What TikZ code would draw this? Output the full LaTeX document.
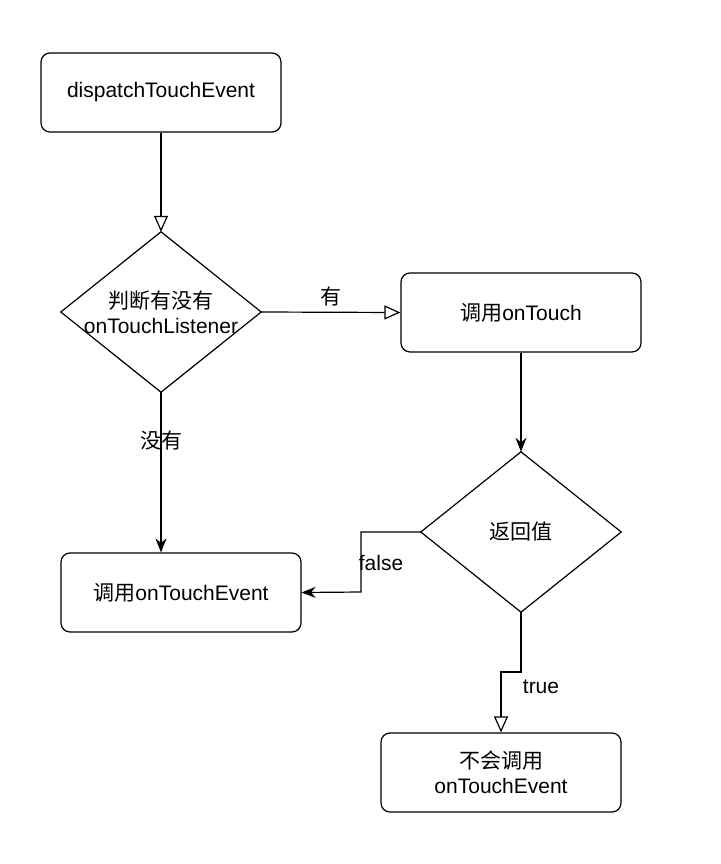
\documentclass[tikz,border=0pt]{standalone}
\usepackage{fontspec}
\setmainfont{Liberation Sans}
\newfontfamily\cjk{Noto Sans CJK SC}
\usetikzlibrary{shapes.geometric,arrows.meta}
\begin{document}
\begin{tikzpicture}[x=1pt,y=-1pt,
  box/.style={draw,line width=1.2pt,rounded corners=9pt,minimum width=240pt,minimum height=79pt,align=center,font=\fontsize{21}{25}\selectfont},
  dia/.style={rectangle,minimum width=200pt,minimum height=160pt,inner sep=0pt,align=center,font=\fontsize{21}{25}\selectfont},
  dline/.style={draw,line width=1.2pt},
  open/.style={line width=1.2pt,-{Triangle[open,length=16pt,width=14pt]}},
  fill/.style={line width=1.2pt,-{Stealth[length=14pt,width=11pt]}},
  lab/.style={inner sep=1pt,font=\fontsize{21}{25}\selectfont}]
\useasboundingbox (0,0) rectangle (720,864);
\node[box] (a) at (161,92.5) {dispatchTouchEvent};
\node[dia] (d1) at (161,312) {{\cjk 判断有没有}\\onTouchListener};
\draw[dline] (d1.north) -- (d1.east) -- (d1.south) -- (d1.west) -- cycle;
\node[box] (b) at (521,312.5) {{\cjk 调用}onTouch};
\node[dia] (d2) at (521,532) {{\cjk 返回值}};
\draw[dline] (d2.north) -- (d2.east) -- (d2.south) -- (d2.west) -- cycle;
\node[box] (c) at (181,592.5) {{\cjk 调用}onTouchEvent};
\node[box] (e) at (501,772.5) {{\cjk 不会调用}\\onTouchEvent};
\draw[open] (a.south) -- (d1.north);
\draw[open] (d1.east) -- node[lab,above=4pt]{\cjk 有} (b.west);
\draw[fill] (d1.south) -- node[lab,fill=white,pos=0.3]{\cjk 没有} (d1.south |- c.north);
\draw[fill] (b.south) -- (d2.north);
\coordinate (k1) at (361,532); \coordinate (k2) at (361,592);
\draw[fill] (d2.west) -- (k1) -- (k2) -- (c.east);
\node[lab] (lf) at (381,563) {false};
\coordinate (k3) at (521,672); \coordinate (k4) at (501,672);
\draw[open] (d2.south) -- (k3) -- (k4) -- (e.north);
\node[lab] (lt) at (541,687) {true};
\end{tikzpicture}
\end{document}
